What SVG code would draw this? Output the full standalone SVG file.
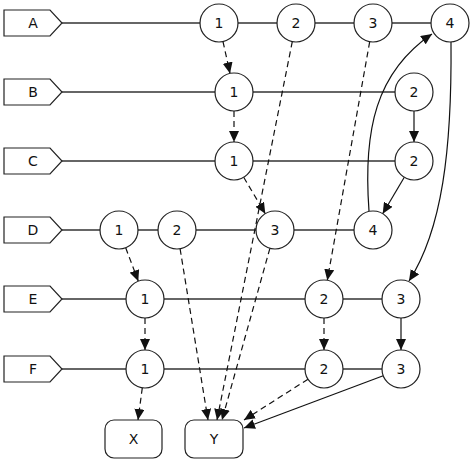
<svg xmlns="http://www.w3.org/2000/svg" width="474" height="463" viewBox="0 0 474 463">
<style>
.lane{fill:#fff;stroke:#222;stroke-width:1.2}
.n circle{fill:#fff;stroke:#222;stroke-width:1.2}
.box{fill:#fff;stroke:#222;stroke-width:1.2}
text{font-family:"DejaVu Sans",sans-serif;font-size:14px;fill:#111;text-anchor:middle;dominant-baseline:central}
.row{stroke:#333;stroke-width:1.3;fill:none}
.e{stroke:#111;stroke-width:1.2;fill:none;marker-end:url(#ah)}
.d{stroke-dasharray:6,4}
</style>
<defs>
<marker id="ah" markerUnits="userSpaceOnUse" markerWidth="12" markerHeight="10" refX="11" refY="5" orient="auto">
<path d="M0,0 L11,5 L0,10 z" fill="#111"/>
</marker>
</defs>
<g id="rows">
<line class="row" x1="62" y1="23" x2="450" y2="23"/>
<line class="row" x1="62" y1="92" x2="414" y2="92"/>
<line class="row" x1="62" y1="161" x2="414" y2="161"/>
<line class="row" x1="62" y1="230" x2="373" y2="230"/>
<line class="row" x1="62" y1="299" x2="401" y2="299"/>
<line class="row" x1="62" y1="369" x2="401" y2="369"/>
</g>
<g id="connectors">
<line class="e d" x1="223" y1="41.6" x2="230" y2="73.4"/>
<line class="e d" x1="234" y1="111" x2="234" y2="142"/>
<line class="e d" x1="243.7" y1="177.3" x2="265.3" y2="213.7"/>
<line class="e d" x1="292.3" y1="41.6" x2="217" y2="420"/>
<line class="e d" x1="369.7" y1="41.7" x2="327.3" y2="280.3"/>
<line class="e" x1="414" y1="111" x2="414" y2="142"/>
<line class="e" x1="404.3" y1="177.3" x2="382.7" y2="213.7"/>
<path class="e" d="M369,211 C363,130 376,72 432,34"/>
<path class="e" d="M451,42 C452,150 442,230 409,281"/>
<line class="e d" x1="125.7" y1="247.8" x2="138.3" y2="281.2"/>
<line class="e d" x1="145" y1="318" x2="145" y2="350"/>
<line class="e d" x1="142.3" y1="387.8" x2="138" y2="420"/>
<line class="e d" x1="180.1" y1="248.8" x2="208" y2="420"/>
<line class="e d" x1="269.9" y1="248.3" x2="222" y2="420"/>
<line class="e d" x1="324" y1="318" x2="324" y2="350"/>
<line class="e" x1="401" y1="318" x2="401" y2="350"/>
<line class="e d" x1="308" y1="379.2" x2="244" y2="420"/>
<line class="e" x1="383.2" y1="375.7" x2="244" y2="428"/>
</g>
<g id="lane-A"><polygon class="lane" points="4,10 50,10 62,23 50,36 4,36"/><text x="33" y="23">A</text></g>
<g id="lane-B"><polygon class="lane" points="4,79 50,79 62,92 50,105 4,105"/><text x="33" y="92">B</text></g>
<g id="lane-C"><polygon class="lane" points="4,148 50,148 62,161 50,174 4,174"/><text x="33" y="161">C</text></g>
<g id="lane-D"><polygon class="lane" points="4,217 50,217 62,230 50,243 4,243"/><text x="33" y="230">D</text></g>
<g id="lane-E"><polygon class="lane" points="4,286 50,286 62,299 50,312 4,312"/><text x="33" y="299">E</text></g>
<g id="lane-F"><polygon class="lane" points="4,356 50,356 62,369 50,382 4,382"/><text x="33" y="369">F</text></g>
<g id="A1" class="n"><circle cx="219" cy="23" r="19"/><text x="219" y="23">1</text></g>
<g id="A2" class="n"><circle cx="296" cy="23" r="19"/><text x="296" y="23">2</text></g>
<g id="A3" class="n"><circle cx="373" cy="23" r="19"/><text x="373" y="23">3</text></g>
<g id="A4" class="n"><circle cx="450" cy="23" r="19"/><text x="450" y="23">4</text></g>
<g id="B1" class="n"><circle cx="234" cy="92" r="19"/><text x="234" y="92">1</text></g>
<g id="B2" class="n"><circle cx="414" cy="92" r="19"/><text x="414" y="92">2</text></g>
<g id="C1" class="n"><circle cx="234" cy="161" r="19"/><text x="234" y="161">1</text></g>
<g id="C2" class="n"><circle cx="414" cy="161" r="19"/><text x="414" y="161">2</text></g>
<g id="D1" class="n"><circle cx="119" cy="230" r="19"/><text x="119" y="230">1</text></g>
<g id="D2" class="n"><circle cx="177" cy="230" r="19"/><text x="177" y="230">2</text></g>
<g id="D3" class="n"><circle cx="275" cy="230" r="19"/><text x="275" y="230">3</text></g>
<g id="D4" class="n"><circle cx="373" cy="230" r="19"/><text x="373" y="230">4</text></g>
<g id="E1" class="n"><circle cx="145" cy="299" r="19"/><text x="145" y="299">1</text></g>
<g id="E2" class="n"><circle cx="324" cy="299" r="19"/><text x="324" y="299">2</text></g>
<g id="E3" class="n"><circle cx="401" cy="299" r="19"/><text x="401" y="299">3</text></g>
<g id="F1" class="n"><circle cx="145" cy="369" r="19"/><text x="145" y="369">1</text></g>
<g id="F2" class="n"><circle cx="324" cy="369" r="19"/><text x="324" y="369">2</text></g>
<g id="F3" class="n"><circle cx="401" cy="369" r="19"/><text x="401" y="369">3</text></g>
<g id="X"><rect class="box" x="105" y="420" width="57" height="38" rx="9"/><text x="133.5" y="439">X</text></g>
<g id="Y"><rect class="box" x="185" y="420" width="58" height="38" rx="9"/><text x="214" y="439">Y</text></g>
</svg>
